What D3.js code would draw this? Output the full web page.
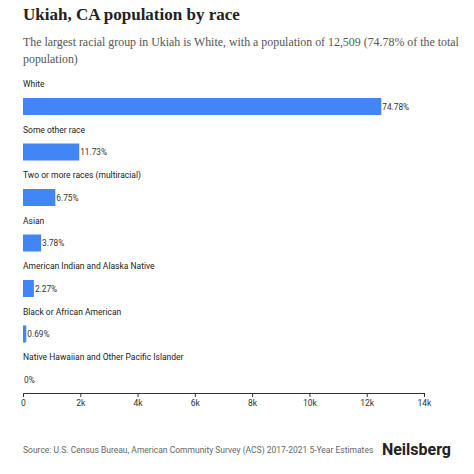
<!DOCTYPE html>
<html>
<head>
<meta charset="utf-8">
<script src="https://cdn.jsdelivr.net/npm/d3@7"></script>
<style>
  body { margin: 0; background: #fff; }
</style>
</head>
<body>
<svg id="chart"></svg>
<script>
const races = ["White", "Some other race", "Two or more races (multiracial)", "Asian",
    "American Indian and Alaska Native", "Black or African American",
    "Native Hawaiian and Other Pacific Islander"];
const population = [12509, 1962, 1129, 632, 380, 115, 0];
const shares = ["74.78%", "11.73%", "6.75%", "3.78%", "2.27%", "0.69%", "0%"];
const ticks = [0, 2000, 4000, 6000, 8000, 10000, 12000, 14000];

const width = 474, height = 474;
const svg = d3.select("#chart").attr("width", width).attr("height", height);

svg.append("text").attr("x", 23).attr("y", 20)
    .attr("font-family", "Liberation Serif, serif").attr("font-weight", "bold")
    .attr("font-size", 17).attr("fill", "#222").text("Ukiah, CA population by race");

const sub = ["The largest racial group in Ukiah is White, with a population of 12,509 (74.78% of the total",
    "population)"];
sub.forEach((s, i) => svg.append("text").attr("x", 23).attr("y", 46 + i * 17)
    .attr("font-family", "Liberation Serif, serif").attr("font-size", 11.9)
    .attr("fill", "#555").text(s));

const x = d3.scaleLinear().domain([0, 14000]).range([23, 424]);
const y = d3.scaleBand().domain(races).range([77, 395.5]);

const g = svg.append("g");
races.forEach((r, i) => {
    const y0 = y(r);
    g.append("text").attr("x", 23).attr("y", y0 + 10)
        .attr("font-family", "Roboto, sans-serif").attr("font-size", 8.5)
        .attr("fill", "#222").text(r);
    g.append("rect").attr("x", x(0)).attr("y", y0 + 21)
        .attr("width", x(population[i]) - x(0)).attr("height", 17)
        .attr("fill", "#4285f4");
    g.append("text").attr("x", x(population[i]) + 1).attr("y", y0 + 32.5)
        .attr("font-family", "Roboto, sans-serif").attr("font-size", 8.3)
        .attr("fill", "#333").text(shares[i]);
});

const axis = svg.append("g").attr("transform", "translate(0,393)")
    .call(d3.axisBottom(x).tickValues(ticks).tickSize(4)
        .tickFormat(d => d === 0 ? "0" : d / 1000 + "k"));
axis.select(".domain").attr("stroke", "#333");
axis.selectAll(".tick line").attr("stroke", "#333");
axis.selectAll("text").attr("font-family", "Roboto, sans-serif")
    .attr("font-size", 8.5).attr("fill", "#333");

svg.append("text").attr("x", 23).attr("y", 453)
    .attr("font-family", "Roboto, sans-serif").attr("font-size", 8.5).attr("fill", "#666")
    .text("Source: U.S. Census Bureau, American Community Survey (ACS) 2017-2021 5-Year Estimates");

svg.append("text").attr("x", 451).attr("y", 455).attr("text-anchor", "end")
    .attr("font-family", "Roboto, sans-serif").attr("font-weight", "bold")
    .attr("font-size", 16).attr("fill", "#222").text("Neilsberg");
</script>
</body>
</html>
